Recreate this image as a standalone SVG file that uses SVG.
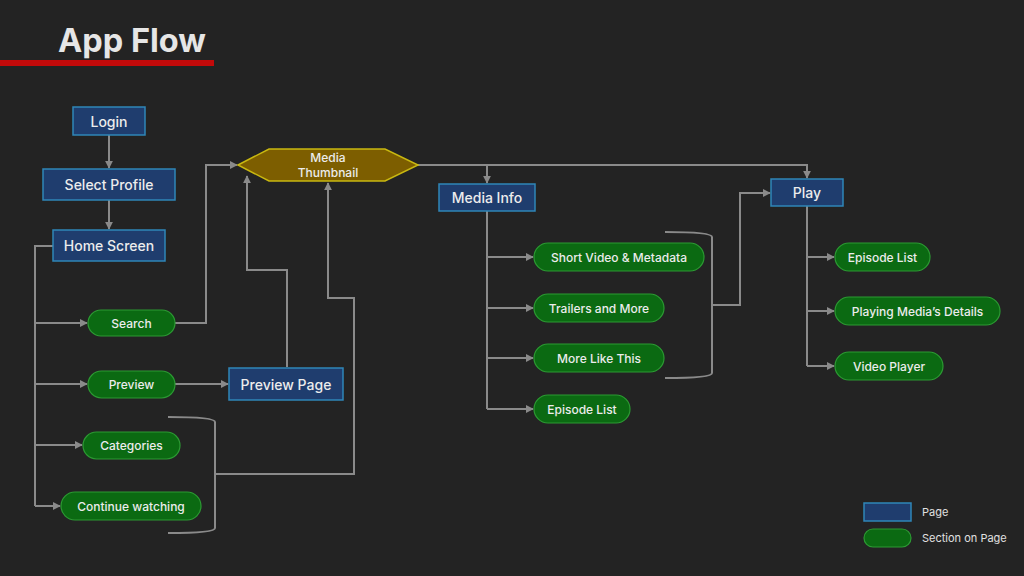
<svg xmlns="http://www.w3.org/2000/svg" width="1024" height="576" viewBox="0 0 1024 576">
<defs>
<marker id="arr" viewBox="0 0 10 10" refX="9" refY="5" markerWidth="4" markerHeight="4" orient="auto" markerUnits="strokeWidth">
<path d="M0,0 L10,5 L0,10 z" fill="#8a8a8a"/>
</marker>
<style>
.bg{fill:#232323}
.page{fill:#1f3d6e;stroke:#2f86b8;stroke-width:1.5}
.sec{fill:#0b6a12;stroke:#2c9a33;stroke-width:1.2}
.hex{fill:#7d5e00;stroke:#c9b810;stroke-width:1.5}
.t{font-family:Inter,"Liberation Sans",sans-serif;fill:#ececec;text-anchor:middle;dominant-baseline:central}
.pt{font-size:14px;font-weight:500}
.st{font-size:12px;font-weight:500}
.c{fill:none;stroke:#8a8a8a;stroke-width:2}
.a{marker-end:url(#arr)}
</style>
</defs>
<rect class="bg" x="0" y="0" width="1024" height="576"/>
<g id="title">
<text x="58" y="52" style="font-family:Inter,'Liberation Sans',sans-serif;font-size:32.5px;font-weight:700;fill:#e6e6e6">App Flow</text>
<rect x="0" y="60" width="214" height="6" fill="#c20a0a"/>
</g>
<g id="connectors">
<path class="c a" d="M109,135 V168"/>
<path class="c a" d="M109,200 V229"/>
<path class="c" d="M53,246 H35 V506"/>
<path class="c a" d="M35,323 H87"/>
<path class="c a" d="M35,384 H87"/>
<path class="c a" d="M35,445 H82"/>
<path class="c a" d="M35,506 H60"/>
<path class="c a" d="M175,323 H206 V165 H237"/>
<path class="c a" d="M175,384 H228"/>
<path class="c a" d="M287,367 V270 H247 V176"/>
<path class="c" d="M168,417 Q215,417 215,422 V528 Q215,533 168,533"/>
<path class="c a" d="M215,474 H354 V298 H328 V183"/>
<path class="c a" d="M418,165 H807 V178"/>
<path class="c a" d="M487,165 V183"/>
<path class="c" d="M487,211 V409"/>
<path class="c a" d="M487,257 H533"/>
<path class="c a" d="M487,308 H533"/>
<path class="c a" d="M487,358 H533"/>
<path class="c a" d="M487,409 H533"/>
<path class="c" d="M665,232 Q712,232 712,237 V373 Q712,378 665,378"/>
<path class="c a" d="M712,305 H740 V193 H770"/>
<path class="c" d="M807,206 V366"/>
<path class="c a" d="M807,257 H834"/>
<path class="c a" d="M807,311 H834"/>
<path class="c a" d="M807,366 H834"/>
</g>
<g id="login"><rect class="page" x="73" y="107" width="72" height="28"/><text class="t pt" x="109" y="121">Login</text></g>
<g id="select-profile"><rect class="page" x="43" y="169" width="132" height="31"/><text class="t pt" x="109" y="184.5">Select Profile</text></g>
<g id="home-screen"><rect class="page" x="53" y="230" width="112" height="31"/><text class="t pt" x="109" y="245.5">Home Screen</text></g>
<g id="search"><rect class="sec" x="88" y="310" width="87" height="26" rx="13"/><text class="t st" x="131.5" y="323">Search</text></g>
<g id="preview"><rect class="sec" x="88" y="371" width="87" height="27" rx="13.5"/><text class="t st" x="131.5" y="384.5">Preview</text></g>
<g id="categories"><rect class="sec" x="83" y="432" width="97" height="27" rx="13.5"/><text class="t st" x="131.5" y="445.5">Categories</text></g>
<g id="continue-watching"><rect class="sec" x="61" y="492" width="140" height="28" rx="14"/><text class="t st" x="131" y="506">Continue watching</text></g>
<g id="preview-page"><rect class="page" x="229" y="368" width="114" height="32"/><text class="t pt" x="286" y="384">Preview Page</text></g>
<g id="media-thumbnail"><polygon class="hex" points="238,165 269,149 385,149 418,165 385,181 269,181"/><text class="t" x="328" y="157.5" style="font-size:12px;font-weight:500">Media</text><text class="t" x="328" y="172.5" style="font-size:12px;font-weight:500">Thumbnail</text></g>
<g id="media-info"><rect class="page" x="439" y="184" width="96" height="27"/><text class="t pt" x="487" y="197.5">Media Info</text></g>
<g id="short-video"><rect class="sec" x="534" y="243" width="170" height="28" rx="14"/><text class="t st" x="619" y="257">Short Video &amp; Metadata</text></g>
<g id="trailers"><rect class="sec" x="534" y="294" width="130" height="28" rx="14"/><text class="t st" x="599" y="308">Trailers and More</text></g>
<g id="more-like-this"><rect class="sec" x="534" y="344" width="130" height="28" rx="14"/><text class="t st" x="599" y="358">More Like This</text></g>
<g id="episode-list-info"><rect class="sec" x="534" y="395" width="96" height="28" rx="14"/><text class="t st" x="582" y="409">Episode List</text></g>
<g id="play"><rect class="page" x="771" y="179" width="72" height="27"/><text class="t pt" x="807" y="192.5">Play</text></g>
<g id="episode-list-play"><rect class="sec" x="835" y="243" width="95" height="28" rx="14"/><text class="t st" x="882.5" y="257">Episode List</text></g>
<g id="playing-details"><rect class="sec" x="835" y="297" width="165" height="28" rx="14"/><text class="t st" x="917.5" y="311">Playing Media’s Details</text></g>
<g id="video-player"><rect class="sec" x="835" y="352" width="108" height="28" rx="14"/><text class="t st" x="889" y="366">Video Player</text></g>
<g id="legend">
<rect class="page" x="864" y="503" width="47" height="18"/>
<text x="922" y="516" style="font-family:Inter,'Liberation Sans',sans-serif;font-size:11px;fill:#e0e0e0">Page</text>
<rect class="sec" x="864" y="529" width="47" height="18" rx="9"/>
<text x="922" y="542" style="font-family:Inter,'Liberation Sans',sans-serif;font-size:11px;fill:#e0e0e0">Section on Page</text>
</g>
</svg>
